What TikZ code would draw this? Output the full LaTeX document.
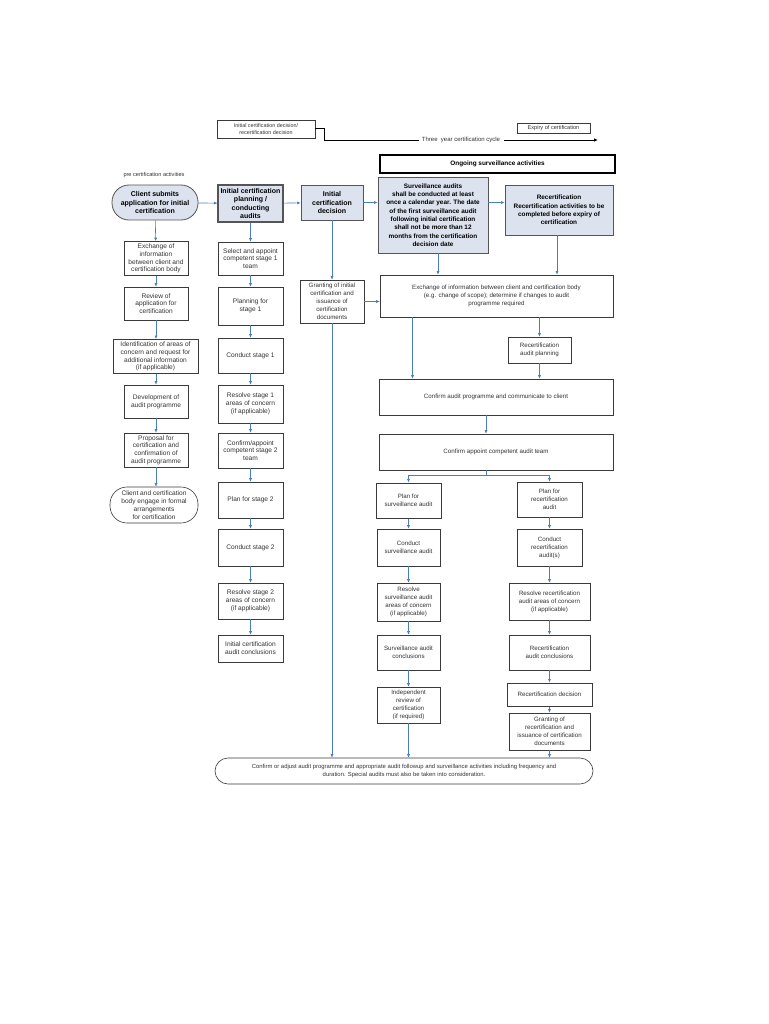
\documentclass[tikz,border=0pt]{standalone}
\usepackage{fontspec}
\setmainfont{Liberation Sans}
\usetikzlibrary{arrows.meta,calc}
\definecolor{arrc}{HTML}{4A7EBB}
\definecolor{boxc}{HTML}{3A3A3A}
\definecolor{txt}{HTML}{333333}
\definecolor{hdrfill}{HTML}{DCE3EF}
\definecolor{hdrdraw}{HTML}{555555}
\tikzset{
 box/.style={draw=boxc, line width=0.6pt, fill=white, text=txt, align=center, rectangle, inner sep=0.5pt, font=\fontsize{6.2}{8}\selectfont},
 bigf/.style={font=\fontsize{6.6}{7.8}\selectfont},
 hdr/.style={box, fill=hdrfill, draw=hdrdraw, line width=0.8pt, text=black, font=\fontsize{7}{8.5}\selectfont\bfseries},
 hdrs/.style={hdr, font=\fontsize{6.4}{8.3}\selectfont\bfseries},
 thk/.style={line width=1.1pt},
 oval/.style={box, rounded corners=13pt},
 arr/.style={draw=arrc, line width=0.6pt, -{Latex[length=3.5pt,width=3pt]}},
 ln/.style={draw=arrc, line width=0.6pt},
 blk/.style={draw=black, line width=0.6pt},
 blkarr/.style={draw=black, line width=0.8pt, -{Latex[length=4pt,width=3.5pt]}},
 lbl/.style={inner sep=0pt, text=txt},
}
\begin{document}
\begin{tikzpicture}[x=1pt,y=-1pt]
\fill[white] (0,0) rectangle (768,1024);
\useasboundingbox (0,0) rectangle (768,1024);

% ---------- top ----------
\node[box, minimum width=98pt, minimum height=18pt, font=\fontsize{5.4}{6.8}\selectfont] (dec) at (266,129) {Initial certification decision/\\recertification decision};
\node[box, minimum width=73pt, minimum height=10pt, font=\fontsize{5.6}{6.5}\selectfont] (expiry) at (553.5,128) {Expiry of certification};
\node[lbl, font=\fontsize{6}{7}\selectfont] (cycle) at (461,140) {Three~~year certification cycle};
\coordinate (c1) at (324,128);
\coordinate (c2) at (324,140);
\coordinate (cend) at (598,140);
\draw[blk] (dec.east |- c1) -- (c1) -- (c2) -- ([xshift=-3pt]cycle.west);
\draw[blkarr] ([xshift=4pt]cycle.east) -- (cend);
\node[box, thk, draw=black, text=black, minimum width=235pt, minimum height=18pt, font=\fontsize{6.4}{7.5}\selectfont\bfseries] (ongoing) at (497.5,164) {Ongoing surveillance activities};

% ---------- header row ----------
\node[lbl, font=\fontsize{5.6}{7}\selectfont] (pre) at (154,175) {pre certification activities};
\node[hdr, rounded corners=17pt, minimum width=86pt, minimum height=35pt] (client) at (155,202.5) {Client submits\\application for initial\\certification};
\node[hdr, line width=1.1pt, minimum width=65pt, minimum height=37pt] (plan) at (250.5,203.5) {Initial certification\\planning /\\conducting\\audits};
\node[hdr, minimum width=62pt, minimum height=35pt] (idec) at (332,202.5) {Initial\\certification\\decision};
\node[hdrs, minimum width=110pt, minimum height=76pt] (surv) at (433,215) {Surveillance audits\\shall be conducted at least\\once a calendar year. The date\\of the first surveillance audit\\following initial certification\\shall not be more than 12\\months from the certification\\decision date};
\node[hdrs, minimum width=108pt, minimum height=50pt] (recert) at (559,210) {Recertification\\Recertification activities to be\\completed before expiry of\\certification};

% ---------- left column ----------
\node[box, bigf, minimum width=64pt, minimum height=34pt] (lex) at (156,258.5) {Exchange of\\information\\between client and\\certification body};
\node[box, bigf, minimum width=64pt, minimum height=33pt] (lrev) at (156,303.5) {Review of\\application for\\certification};
\node[box, bigf, line width=1pt, minimum width=85pt, minimum height=34pt] (lid) at (155.5,356.5) {Identification of areas of\\concern and request for\\additional information\\(if applicable)};
\node[box, bigf, minimum width=64pt, minimum height=33pt] (ldev) at (156,401.5) {Development of\\audit programme};
\node[box, bigf, minimum width=64pt, minimum height=34pt] (lprop) at (156,450) {Proposal for\\certification and\\confirmation of\\audit programme};
\node[oval, bigf, rounded corners=17pt, minimum width=88pt, minimum height=36pt] (lend) at (154,505) {Client and certification\\body engage in formal\\arrangements\\for certification};

% ---------- middle column ----------
\node[box, bigf, minimum width=65pt, minimum height=33pt] (m1) at (250.5,258.5) {Select and appoint\\competent stage 1\\team};
\node[box, bigf, minimum width=65pt, minimum height=38pt] (m2) at (250.5,306) {Planning for\\stage 1};
\node[box, bigf, minimum width=65pt, minimum height=35pt] (m3) at (250.5,355.5) {Conduct stage 1};
\node[box, bigf, minimum width=65pt, minimum height=38pt] (m4) at (250.5,404) {Resolve stage 1\\areas of concern\\(if applicable)};
\node[box, bigf, minimum width=65pt, minimum height=35pt] (m5) at (250.5,450.5) {Confirm/appoint\\competent stage 2\\team};
\node[box, bigf, minimum width=65pt, minimum height=36pt] (m6) at (250.5,500) {Plan for stage 2};
\node[box, bigf, minimum width=65pt, minimum height=37pt] (m7) at (250.5,547.5) {Conduct stage 2};
\node[box, bigf, minimum width=65pt, minimum height=36pt] (m8) at (250.5,601) {Resolve stage 2\\areas of concern\\(if applicable)};
\node[box, bigf, minimum width=65pt, minimum height=27pt] (m9) at (250.5,648.5) {Initial certification\\audit conclusions};

% ---------- decision / exchange ----------
\node[box, minimum width=64pt, minimum height=43pt] (grant) at (332,301.5) {Granting of initial\\certification and\\issuance of\\certification\\documents};
\node[box, minimum width=233pt, minimum height=42pt] (exch) at (496.5,296) {Exchange of information between client and certification body\\(e.g. change of scope); determine if changes to audit\\programme required};
\node[box, minimum width=63pt, minimum height=26pt] (rplan) at (539.5,350) {Recertification\\audit planning};
\node[box, minimum width=234pt, minimum height=36pt] (cprog) at (496,397) {Confirm audit programme and communicate to client};
\node[box, minimum width=234pt, minimum height=36pt] (cteam) at (496,452) {Confirm appoint competent audit team};

% ---------- surveillance column ----------
\node[box, line width=1pt, minimum width=65pt, minimum height=35pt] (s1) at (408.5,500.5) {Plan for\\surveillance audit};
\node[box, minimum width=63pt, minimum height=37pt] (s2) at (408.5,547.5) {Conduct\\surveillance audit};
\node[box, minimum width=63pt, minimum height=38pt] (s3) at (408.5,602) {Resolve\\surveillance audit\\areas of concern\\(if applicable)};
\node[box, minimum width=63pt, minimum height=35pt] (s4) at (408.5,652.5) {Surveillance audit\\conclusions};
\node[box, minimum width=63pt, minimum height=36pt] (s5) at (408.5,705) {Independent\\review of\\certification\\(if required)};

% ---------- recertification column ----------
\node[box, minimum width=65pt, minimum height=35pt] (r1) at (549.5,499.5) {Plan for\\recertification\\audit};
\node[box, minimum width=65pt, minimum height=37pt] (r2) at (549.5,547.5) {Conduct\\recertification\\audit(s)};
\node[box, minimum width=81pt, minimum height=37pt] (r3) at (549.5,601.5) {Resolve recertification\\audit areas of concern\\(if applicable)};
\node[box, minimum width=81pt, minimum height=35pt] (r4) at (549.5,652.5) {Recertification\\audit conclusions};
\node[box, line width=1pt, minimum width=85pt, minimum height=23pt] (r5) at (549.5,694.5) {Recertification decision};
\node[box, minimum width=81pt, minimum height=37pt] (r6) at (549.5,731.5) {Granting of\\recertification and\\issuance of certification\\documents};

% ---------- bottom ----------
\node[oval, minimum width=378pt, minimum height=26pt, font=\fontsize{5.9}{7.8}\selectfont] (final) at (404,771) {Confirm or adjust audit programme and appropriate audit followup and surveillance activities including frequency and\\duration. Special audits must also be taken into consideration.};

% ---------- connectors ----------
\draw[arr] (client) -- (plan);
\draw[arr] (plan) -- (idec);
\draw[arr] (idec) -- (surv.west |- idec);
\draw[arr] (surv.east |- idec) -- (recert.west |- idec);
\draw[arr] (idec) -- (grant);
\draw[arr] ([xshift=5pt]surv.south) -- ([xshift=5pt]surv.south |- exch.north);
\draw[arr] ([xshift=-2pt]recert.south) -- ([xshift=-2pt]recert.south |- exch.north);
\draw[arr] (grant) -- (exch.west |- grant);
\draw[arr] (grant) -- (grant |- final.north);

\draw[arr] (client) -- (lex);
\draw[arr] (lex) -- (lrev);
\draw[arr] (lrev) -- (lid.north -| lrev);
\draw[arr] (lid.south -| ldev) -- (ldev);
\draw[arr] (ldev) -- (lprop);
\draw[arr] (lprop) -- (lend.north -| lprop);

\draw[arr] (plan) -- (m1);
\draw[arr] (m1) -- (m2);
\draw[arr] (m2) -- (m3);
\draw[arr] (m3) -- (m4);
\draw[arr] (m4) -- (m5);
\draw[arr] (m5) -- (m6);
\draw[arr] (m6) -- (m7);
\draw[arr] (m7) -- (m8);
\draw[arr] (m8) -- (m9);

\coordinate (ex1) at ([xshift=4pt]s1.north |- exch.south);
\draw[arr] (ex1) -- (ex1 |- cprog.north);
\draw[arr] (rplan.north |- exch.south) -- (rplan);
\draw[arr] (rplan) -- (rplan |- cprog.north);
\coordinate (cp1) at ([xshift=-10pt]cprog.south);
\draw[arr] (cp1) -- (cp1 |- cteam.north);
\coordinate (ct1) at ([xshift=-10pt]cteam.south);
\coordinate (br) at ($(ct1)+(0,5)$);
\draw[ln] (ct1) -- (br);
\draw[arr] (br) -| (s1.north);
\draw[arr] (br) -| (r1.north);

\draw[arr] (s1) -- (s2);
\draw[arr] (s2) -- (s3);
\draw[arr] (s3) -- (s4);
\draw[arr] (s4) -- (s5);
\draw[arr] (s5) -- (s5 |- final.north);

\draw[arr] (r1) -- (r2);
\draw[arr] (r2) -- (r3);
\draw[arr] (r3) -- (r4);
\draw[arr] (r4) -- (r5);
\draw[arr] (r5) -- (r6);
\draw[arr] (r6) -- (r6 |- final.north);
\end{tikzpicture}
\end{document}
